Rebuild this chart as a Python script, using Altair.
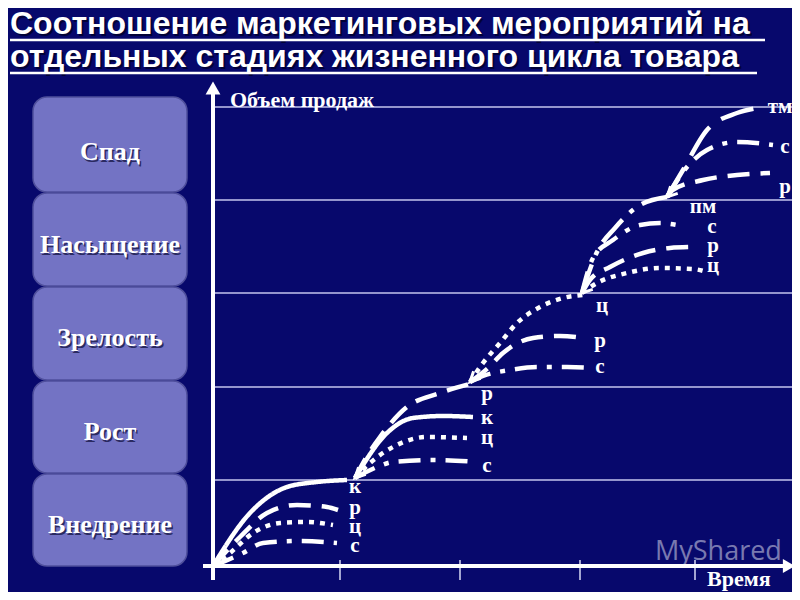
import altair as alt
import pandas as pd

# Frame: time (t) and sales volume (s) measured from the axis origin
T_MIN, T_MAX = -205, 579
S_MIN, S_MAX = -26, 558

BG = "#07086c"
WHITE = "#ffffff"
BOX = "#7373c4"

title_lines = ["Соотношение маркетинговых мероприятий на",
               "отдельных стадиях жизненного цикла товара"]
title_t = [-203, -203]
title_s = [532, 499]
underline_t0 = [-203, -203]
underline_t1 = [552, 544]
underline_s = [526, 493]

stages = ["Внедрение", "Рост", "Зрелость", "Насыщение", "Спад"]
stage_bottom = [0, 93, 186, 280, 374]
stage_top = [92, 185, 279, 373, 469]
stage_label_s = [41, 134, 228, 321, 414]

grid_levels = [86, 179, 273, 366, 459]
stage_ticks = [127, 247, 367, 482]

# curves: (id, kind, t values, s values)
curves = [
    # Внедрение
    ("к1", "solid", [0, 37, 74, 104, 134], [0, 53, 79, 84, 86]),
    ("р1", "dash", [0, 27, 54, 84, 114, 125], [0, 29, 53, 61, 59, 56]),
    ("ц1", "dot", [0, 17, 40, 67, 94, 120], [0, 13, 33, 43, 44, 41]),
    ("с1", "dashdot", [0, 30, 50, 87, 124], [0, 13, 23, 25, 23]),
    # Рост
    ("р2", "dash", [142, 154, 167, 194, 227, 260], [88, 110, 129, 159, 173, 183]),
    ("к2", "solid", [142, 174, 200, 230, 260], [88, 133, 148, 150, 149]),
    ("ц2", "dot", [142, 157, 180, 214, 254], [88, 103, 119, 129, 128]),
    ("с2", "dashdot", [142, 164, 180, 220, 264], [88, 99, 104, 106, 104]),
    # Зрелость
    ("ц3", "dot", [257, 270, 287, 304, 327, 350, 370], [184, 203, 223, 243, 259, 268, 271]),
    ("р3", "dash", [257, 275, 290, 320, 347, 370], [184, 198, 213, 228, 230, 228]),
    ("с3", "dashdot", [257, 270, 297, 324, 354, 380], [184, 190, 196, 199, 199, 198]),
    # Насыщение
    ("пм4", "longdashdot", [369, 384, 402, 427, 454], [273, 314, 338, 361, 369]),
    ("с4", "dashdot", [369, 380, 400, 427, 447, 464], [273, 308, 326, 341, 343, 341]),
    ("р4", "dash", [369, 377, 397, 430, 457, 480], [273, 286, 299, 313, 318, 319]),
    ("ц4", "dot", [369, 384, 414, 447, 480, 494], [273, 283, 293, 298, 297, 294]),
    # Спад
    ("тм5", "longdash", [454, 470, 494, 524, 544], [369, 396, 436, 453, 458]),
    ("с5", "dashdot", [454, 474, 494, 524, 560], [369, 399, 416, 424, 421]),
    ("р5", "dash", [454, 460, 490, 524, 557], [369, 376, 386, 391, 393]),
]

kinds = ["solid", "dash", "dot", "dashdot", "longdashdot", "longdash"]
dashes = [[1, 0], [22, 11], [5, 6], [22, 10, 5, 10], [30, 10, 5, 10], [34, 14]]

# junctions where one stage's curves start
junction_t = [142, 257, 369, 454]
junction_s = [88, 184, 273, 369]

label_text = ["к", "р", "ц", "с",
              "р", "к", "ц", "с",
              "ц", "р", "с",
              "пм", "с", "р", "ц",
              "тм", "с", "р"]
label_t = [142, 142, 142, 142,
           274, 274, 274, 274,
           389, 387, 387,
           490, 499, 500, 500,
           567, 572, 572]
label_s = [79, 58, 39, 20,
           172, 148, 128, 100,
           260, 225, 199,
           359, 339, 320, 300,
           459, 419, 379]

# ---------- tables ----------
rows = []
for cid, kind, ts, ss in curves:
    for i, (t, s) in enumerate(zip(ts, ss)):
        rows.append({"id": cid, "kind": kind, "t": t, "s": s, "o": i})
curve_df = pd.DataFrame(rows)

boxes_df = pd.DataFrame({"stage": stages, "t0": [-180] * 5, "t1": [-26] * 5,
                         "s0": stage_bottom, "s1": stage_top,
                         "tc": [-103] * 5, "sc": stage_label_s})
grid_df = pd.DataFrame({"s": grid_levels, "t0": [0] * 5, "t1": [579] * 5})
tick_df = pd.DataFrame({"t": stage_ticks, "s0": [-14] * 4, "s1": [6] * 4})
labels_df = pd.DataFrame({"txt": label_text, "t": label_t, "s": label_s})
title_df = pd.DataFrame({"txt": title_lines, "t": title_t, "s": title_s})
uline_df = pd.DataFrame({"t0": underline_t0, "t1": underline_t1, "s": underline_s})
junction_df = pd.DataFrame({"t": junction_t, "s": junction_s})

xs = alt.Scale(domain=[T_MIN, T_MAX], nice=False, zero=False)
ys = alt.Scale(domain=[S_MIN, S_MAX], nice=False, zero=False)


def X(f):
    return alt.X(f, type="quantitative", scale=xs, axis=None)


def Y(f):
    return alt.Y(f, type="quantitative", scale=ys, axis=None)


boxes = alt.Chart(boxes_df).mark_rect(
    fill=BOX, stroke="#4f4f9c", strokeWidth=1.5, cornerRadius=14
).encode(x=X("t0"), x2="t1", y=Y("s0"), y2="s1")

box_shadow_text = alt.Chart(boxes_df).mark_text(
    font="Liberation Serif", fontSize=26, fontWeight="bold", color="#2a2a60",
    dx=1.5, dy=1.5
).encode(x=X("tc"), y=Y("sc"), text="stage:N")
box_text = alt.Chart(boxes_df).mark_text(
    font="Liberation Serif", fontSize=26, fontWeight="bold", color=WHITE
).encode(x=X("tc"), y=Y("sc"), text="stage:N")

grid = alt.Chart(grid_df).mark_rule(color="#c4c4ee", strokeWidth=1.5).encode(
    x=X("t0"), x2="t1", y=Y("s"))
ticks = alt.Chart(tick_df).mark_rule(color="#d8d8f4", strokeWidth=1.5).encode(
    x=X("t"), y=Y("s0"), y2="s1")

yaxis = alt.Chart(pd.DataFrame({"t": [0], "s0": [-14], "s1": [476]})).mark_rule(
    color=WHITE, strokeWidth=4).encode(x=X("t"), y=Y("s0"), y2="s1")
xaxis = alt.Chart(pd.DataFrame({"s": [0], "t0": [-10], "t1": [572]})).mark_rule(
    color=WHITE, strokeWidth=4).encode(x=X("t0"), x2="t1", y=Y("s"))
yarrow = alt.Chart(pd.DataFrame({"t": [0], "s": [478]})).mark_point(
    shape="triangle-up", filled=True, color=WHITE, opacity=1, size=220
).encode(x=X("t"), y=Y("s"))
xarrow = alt.Chart(pd.DataFrame({"t": [576], "s": [0]})).mark_point(
    shape="triangle-right", filled=True, color=WHITE, opacity=1, size=200
).encode(x=X("t"), y=Y("s"))

lines = alt.Chart(curve_df).mark_line(
    color=WHITE, strokeWidth=4.5, interpolate="monotone", strokeCap="butt"
).encode(
    x=X("t"), y=Y("s"), detail="id:N", order="o:Q",
    strokeDash=alt.StrokeDash("kind:N", scale=alt.Scale(domain=kinds, range=dashes),
                              legend=None),
)

chevrons = alt.Chart(junction_df).mark_point(
    shape="M 1.6 -0.8 L 0 0 L 1.6 0.8", filled=False, stroke=WHITE, opacity=1,
    strokeWidth=3, size=160, angle=315
).encode(x=X("t"), y=Y("s"))

curve_labels = alt.Chart(labels_df).mark_text(
    font="Liberation Serif", fontSize=21, fontWeight="bold", color=WHITE
).encode(x=X("t"), y=Y("s"), text="txt:N")

axis_titles = alt.Chart(pd.DataFrame({
    "txt": ["Объем продаж", "Время"], "t": [17, 494], "s": [459, -20]
})).mark_text(
    font="Liberation Serif", fontSize=22, fontWeight="bold", color=WHITE,
    align="left", baseline="alphabetic"
).encode(x=X("t"), y=Y("s"), text="txt:N")

watermark = alt.Chart(pd.DataFrame({"txt": ["MyShared"], "t": [442], "s": [6]})).mark_text(
    font="Open Sans", fontSize=27, color="#d6d6e8", opacity=0.55,
    align="left", baseline="alphabetic"
).encode(x=X("t"), y=Y("s"), text="txt:N")

title_shadow = alt.Chart(title_df).mark_text(
    font="Liberation Sans", fontSize=32, fontWeight="bold", color="#000022",
    align="left", baseline="alphabetic", dx=2, dy=2, opacity=0.7
).encode(x=X("t"), y=Y("s"), text="txt:N")
title_text = alt.Chart(title_df).mark_text(
    font="Liberation Sans", fontSize=32, fontWeight="bold", color=WHITE,
    align="left", baseline="alphabetic"
).encode(x=X("t"), y=Y("s"), text="txt:N")
underline = alt.Chart(uline_df).mark_rule(color=WHITE, strokeWidth=2.5).encode(
    x=X("t0"), x2="t1", y=Y("s"))

chart = alt.layer(
    watermark, grid, ticks, boxes, box_shadow_text, box_text,
    lines, chevrons, yaxis, xaxis, yarrow, xarrow, curve_labels, axis_titles,
    title_shadow, title_text, underline
).properties(
    width=784, height=584,
    autosize=alt.AutoSizeParams(type="none"), padding=0,
).configure(background=BG).configure_view(stroke=None)

chart.save("out.html", embed_options={"renderer": "svg", "actions": False})
